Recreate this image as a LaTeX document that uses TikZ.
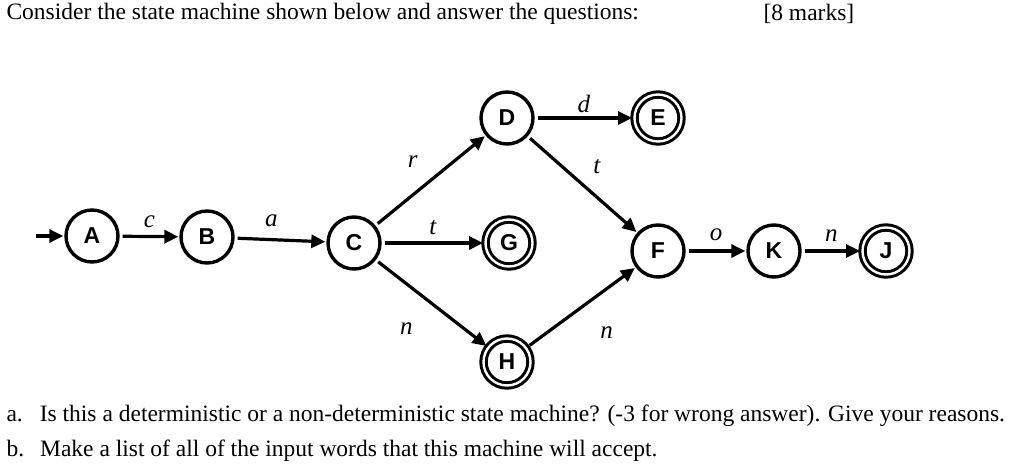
\documentclass[tikz,border=0pt]{standalone}
\usepackage{fontspec}
\setmainfont{Liberation Serif}
\newfontfamily\nodefont{Liberation Sans}
\usetikzlibrary{arrows.meta}
\begin{document}
\begin{tikzpicture}[x=1pt,y=-1pt,
  st/.style={circle,draw,line width=3.4pt,minimum size=52pt,inner sep=0pt,font=\nodefont\bfseries\fontsize{23}{23}\selectfont},
  acc/.style={st,line width=3pt,double,double distance=2.4pt,minimum size=47pt},
  ed/.style={line width=3.2pt,-{Triangle[length=14pt,width=13pt]},shorten <=3pt,shorten >=1pt},
  lb/.style={font=\itshape\fontsize{25}{25}\selectfont},
  txt/.style={anchor=west,font=\fontsize{23.5}{23.5}\selectfont}]
\useasboundingbox (0,0) rectangle (1024,473);
\node[txt] (title) at (3,14) {Consider the state machine shown below and answer the questions:};
\node[txt] (marks) at (760,14) {[8 marks]};
\node[st] (A) at (92,236) {A};
\node[st] (B) at (207,237) {B};
\node[st] (C) at (354,243) {C};
\node[st] (D) at (507,118) {D};
\node[acc] (E) at (658,118) {E};
\node[acc] (G) at (509,243) {G};
\node[acc] (H) at (507,362) {H};
\node[st] (F) at (658,251) {F};
\node[st] (K) at (774,251) {K};
\node[acc] (J) at (886,251) {J};
\coordinate (s) at (36,236);
\draw[ed,shorten <=0pt] (s) -- (A);
\draw[ed] (A) -- node[lb,above=4pt]{c} (B);
\draw[ed] (B) -- node[lb,above=8pt,pos=0.4]{a} (C);
\draw[ed] (C) -- node[lb,above left=8pt]{r} (D);
\draw[ed] (C) -- node[lb,above=3pt]{t} (G);
\draw[ed] (C) -- node[lb,below left=14pt]{n} (H);
\draw[ed] (D) -- node[lb,above]{d} (E);
\draw[ed] (D) -- node[lb,above right=6pt]{t} (F);
\draw[ed] (H) -- node[lb,below right=14pt]{n} (F);
\draw[ed] (F) -- node[lb,above=5pt]{o} (K);
\draw[ed] (K) -- node[lb,above=5pt]{n} (J);
\node[txt] (qa) at (3,416) {a.\hspace{17pt}Is this a deterministic or a non-deterministic state machine? (-3 for wrong answer). Give your reasons.};
\node[txt] (qb) at (3,451) {b.\hspace{16pt}Make a list of all of the input words that this machine will accept.};
\end{tikzpicture}
\end{document}
